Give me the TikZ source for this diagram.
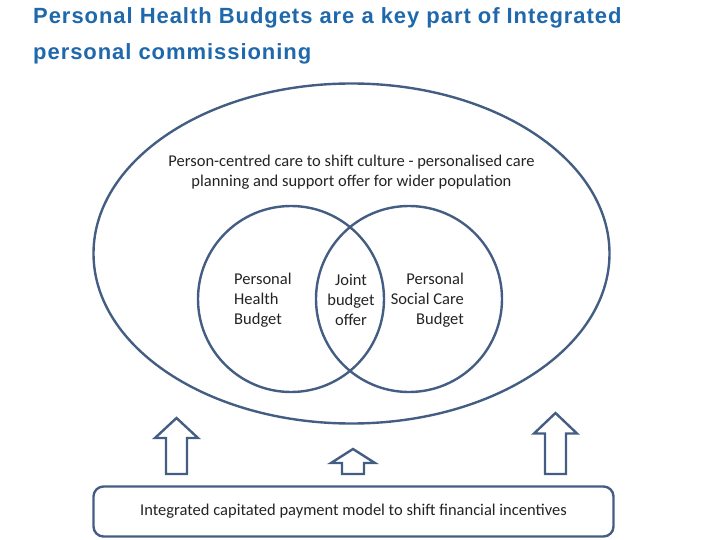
\documentclass[tikz,border=0pt]{standalone}
\usepackage{fontspec}
\setmainfont{Carlito}
\newfontfamily\TitleFont[LetterSpace=4.3]{Liberation Sans}
\usepackage{tikz}
\usetikzlibrary{shapes.geometric}
\usepackage{xcolor}
\definecolor{ColLine}{RGB}{68,94,131}
\definecolor{ColTitle}{RGB}{31,104,172}
\definecolor{ColText}{RGB}{35,35,35}
\tikzstyle{TitleText}=[anchor=base west,inner sep=0pt,text=ColTitle,
font=\TitleFont\bfseries\fontsize{22}{26}\selectfont]
\tikzstyle{OuterEllipse}=[ellipse,draw=ColLine,line width=2.4pt,inner sep=0pt,
minimum width=516pt,minimum height=340pt]
\tikzstyle{BudgetCircle}=[circle,draw=ColLine,line width=2.4pt,inner sep=0pt,
minimum size=186pt]
\tikzstyle{BodyText}=[inner sep=0pt,text=ColText,font=\fontsize{16.5}{20}\selectfont]
\tikzstyle{ArrowShape}=[draw=ColLine,line width=2.4pt,fill=white,line join=miter]
\tikzstyle{ModelBox}=[rectangle,rounded corners=10pt,draw=ColLine,line width=2.4pt,
minimum width=520pt,minimum height=50pt,inner sep=0pt]
% block arrow: x centre, tip, head base, bottom, head half width, shaft half width
\newcommand{\BlockArrow}[6]{%
  \draw[ArrowShape](#1,#2)--(#1+#5,#3)--(#1+#6,#3)--(#1+#6,#4)
    --(#1-#6,#4)--(#1-#6,#3)--(#1-#5,#3)--cycle;}

\begin{document}
\begin{tikzpicture}[x=1pt,y=-1pt]
        \useasboundingbox(0,0)rectangle(720,540);
        \node[TitleText](title1)at(33,24){Personal Health Budgets are a key part of Integrated};
        \node[TitleText](title2)at(33,60){personal commissioning};
        % nested ellipse and circles
        \node[OuterEllipse](outer)at(351.5,253.5){};
        \node[BudgetCircle](phb)at(291,299){};
        \node[BudgetCircle](pscb)at(409,299){};
        \node[BodyText,align=center](culture)at(351.5,172)
            {Person-centred care to shift culture - personalised care\\
             planning and support offer for wider population};
        \node[BodyText,align=left,anchor=west](health)at(234,300)
            {Personal\\Health\\Budget};
        \node[BodyText,align=center](joint)at(351,300)
            {Joint\\budget\\offer};
        \node[BodyText,align=right,anchor=east](social)at(464,300)
            {Personal\\Social Care\\Budget};
        % arrows and payment model
        \BlockArrow{176.5}{418}{438}{474}{21.5}{10.5}
        \BlockArrow{353}{449}{463}{474}{22}{11}
        \BlockArrow{555.5}{413}{433.5}{474}{21.5}{10.5}
        \node[ModelBox](model)at(353.5,511.5){};
        \node[BodyText](modeltext)at(model.center)
            {Integrated capitated payment model to shift financial incentives};
    \end{tikzpicture}
\end{document}
